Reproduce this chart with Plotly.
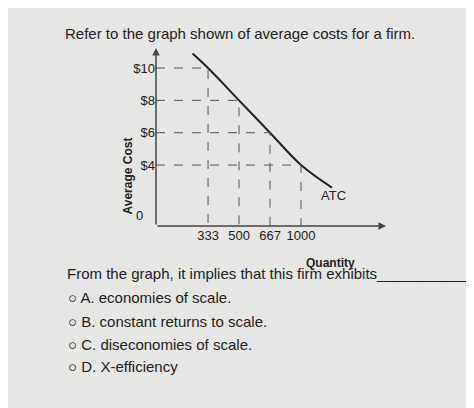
import plotly.graph_objects as go

quantity_labels = ["333", "500", "667", "1000"]
tick_pos = [1, 2, 3, 4]
cost_values = [10, 8, 6, 4]
y_tick_labels = ["$10", "$8", "$6", "$4"]
curve_x = [0.5, 1, 2, 3, 4, 5]
curve_y = [10.9, 10.0, 8.0, 6.0, 4.0, 2.6]
options = ["A. economies of scale.", "B. constant returns to scale.",
           "C. diseconomies of scale.", "D. X-efficiency"]

W, H = 474, 408
def px(x): return x / W
def py(y): return 1 - y / H

fig = go.Figure()
fig.add_trace(go.Scatter(x=curve_x, y=curve_y, mode="lines", line=dict(color="#222", width=2, shape="spline"), hoverinfo="skip"))
xmin, ymin = -0.68, 0.23
for xp, yv in zip(tick_pos, cost_values):
    fig.add_trace(go.Scatter(x=[xmin, xp, xp], y=[yv, yv, ymin], mode="lines",
                             line=dict(color="#555", width=1, dash="dash"), hoverinfo="skip"))

fig.update_layout(
    width=W, height=H, margin=dict(l=0, r=0, t=0, b=0), showlegend=False,
    paper_bgcolor="#e6e6e4", plot_bgcolor="rgba(0,0,0,0)",
    font=dict(family="Liberation Sans, Arial", color="#222"),
    xaxis=dict(domain=[px(148), px(372)], range=[xmin, 6.55], tickvals=tick_pos, ticktext=quantity_labels,
               showgrid=False, zeroline=False, showline=False, ticks="", tickfont=dict(size=13)),
    yaxis=dict(domain=[py(218), py(45)], range=[ymin, 10.93], tickvals=cost_values, ticktext=y_tick_labels,
               showgrid=False, zeroline=False, showline=False, ticks="", tickfont=dict(size=13)),
)
ann = []
ann.append(dict(xref="paper", yref="paper", x=px(378), y=py(218), ax=-230, ay=0,
                showarrow=True, arrowhead=2, arrowwidth=1.5, arrowcolor="#444", text=""))
ann.append(dict(xref="paper", yref="paper", x=px(148), y=py(40), ax=0, ay=178,
                showarrow=True, arrowhead=2, arrowwidth=1.5, arrowcolor="#444", text=""))
ann.append(dict(xref="paper", yref="paper", x=px(126), y=py(207), text="0", showarrow=False, font=dict(size=13)))
ann.append(dict(xref="paper", yref="paper", x=px(110), y=py(128), text="<b>Average Cost</b>", textangle=-90, showarrow=False, font=dict(size=12)))
ann.append(dict(xref="paper", yref="paper", x=px(349), y=py(255), text="<b>Quantity</b>", showarrow=False, font=dict(size=12)))
ann.append(dict(xref="paper", yref="paper", x=px(340), y=py(188), text="ATC", showarrow=False, font=dict(size=13)))
ann.append(dict(xref="paper", yref="paper", x=px(55), y=py(15), xanchor="left", text="Refer to the graph shown of average costs for a firm.", showarrow=False, font=dict(size=15)))
ann.append(dict(xref="paper", yref="paper", x=px(57), y=py(276), xanchor="left", text="From the graph, it implies that this firm exhibits____________.", showarrow=False, font=dict(size=15)))
for i, o in enumerate(options):
    yy = [300, 324, 347, 369][i]
    ann.append(dict(xref="paper", yref="paper", x=px(58), y=py(yy), xanchor="left", text="○ " + o, showarrow=False, font=dict(size=15)))
fig.update_layout(annotations=ann)
fig.write_html("out.html")
